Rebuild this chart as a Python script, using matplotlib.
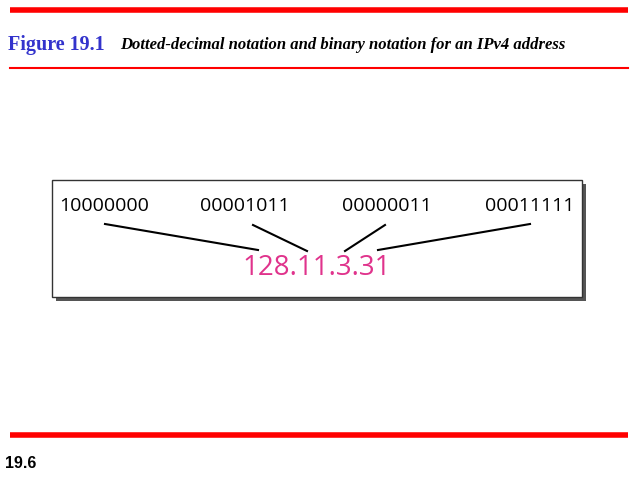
import matplotlib.pyplot as plt
from matplotlib.patches import Rectangle

binary_octets = ["10000000", "00001011", "00000011", "00011111"]
decimal_octets = [128, 11, 3, 31]
title_number = "Figure 19.1"
title_text = "Dotted-decimal notation and binary notation for an IPv4 address"
page_label = "19.6"

fig = plt.figure(figsize=(6.38, 4.78), dpi=100)
ax = fig.add_axes([0, 0, 1, 1])
ax.set_xlim(0, 638)
ax.set_ylim(478, 0)
ax.axis("off")

red = "#ff0000"
ax.plot([10, 628], [10, 10], color=red, lw=4, solid_capstyle="butt")
ax.plot([10, 628], [68, 68], color=red, lw=1.5)
ax.plot([10, 628], [435, 435], color=red, lw=4, solid_capstyle="butt")

ax.text(8, 45, title_number, color="#3333cc", fontsize=14.5, fontweight="bold",
        family="Liberation Serif", va="center")
ax.text(120, 45, title_text, color="black", fontsize=12, fontweight="bold",
        style="italic", family="Liberation Serif", va="center")

# box with shadow
ax.add_patch(Rectangle((56, 184), 530, 117, facecolor="#555555", edgecolor="none"))
ax.add_patch(Rectangle((52, 180), 530, 117, facecolor="white", edgecolor="#333333", lw=1))

label_x = [104, 245, 387, 530]
line_starts = [(105, 224), (253, 225), (385, 225), (530, 224)]
line_ends = [(258, 250), (307, 251), (345, 251), (378, 250)]
for x, b in zip(label_x, binary_octets):
    ax.text(x, 206, b, fontsize=14, family="Open Sans", ha="center", va="center")
for (x0, y0), (x1, y1) in zip(line_starts, line_ends):
    ax.plot([x0, x1], [y0, y1], color="black", lw=1.5)

ax.text(317, 268, ".".join(str(d) for d in decimal_octets), color="#e0338c",
        fontsize=20, family="Open Sans", ha="center", va="center")

ax.text(5, 463, page_label, fontsize=11.5, fontweight="bold",
        family="Liberation Sans", va="center")

fig.savefig("out.png", dpi=100)
